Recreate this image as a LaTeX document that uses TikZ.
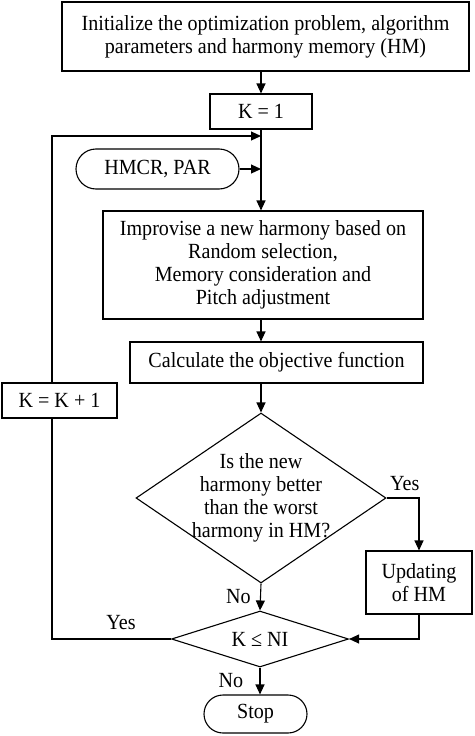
\documentclass[tikz,border=0pt]{standalone}
\usepackage{fontspec}
\setmainfont{Liberation Serif}[FakeStretch=0.93]
\usetikzlibrary{arrows.meta,shapes.geometric}

\begin{document}
\begin{tikzpicture}[
  x=1pt, y=1pt,
  block/.style={draw, line width=1.1pt, rectangle, align=center, inner sep=2pt},
  term/.style={draw, line width=1.1pt, rectangle, align=center, inner sep=2pt},
  decision/.style={draw, line width=1.1pt, diamond, aspect=1.5, inner sep=-6pt, align=center},
  font=\fontsize{21.6}{23}\selectfont,
  >={Triangle[length=10pt,width=9pt]}, line width=1.1pt
]
\useasboundingbox (0,0) rectangle (474,-736);

% Main column, top to bottom
\node[block, minimum width=407pt, minimum height=69pt] (init) at (265.5,-36.5) {Initialize the optimization problem, algorithm\\parameters and harmony memory (HM)};
\node[block, minimum width=102pt, minimum height=35pt] (k1) at (261,-111.5) {K = 1};
\node[block, minimum width=320pt, minimum height=108pt] (impr) at (263,-265) {Improvise a new harmony based on\\Random selection,\\Memory consideration and\\Pitch adjustment};
\node[block, minimum width=293pt, minimum height=41pt] (calc) at (276.5,-362.5) {Calculate the objective function};
\node[decision, minimum width=250pt, minimum height=170pt] (dec1) at (261,-498) {Is the new\\harmony better\\than the worst\\harmony in HM?};
\node[decision, minimum width=177pt, minimum height=56pt] (dec2) at (260,-639) {K ≤ NI};
\node[term, rounded corners=19pt, minimum width=103pt, minimum height=38pt] (stop) at (255.5,-714) {Stop};

% Side nodes
\node[term, rounded corners=20pt, minimum width=163pt, minimum height=40pt] (hmcr) at (157.5,-169) {HMCR, PAR};
\node[block, minimum width=115pt, minimum height=35pt] (kk1) at (59.5,-400.5) {K = K + 1};
\node[block, minimum width=106pt, minimum height=63pt] (upd) at (419,-582.5) {Updating\\of HM};

\coordinate (loop) at (261,-136);

% Connections
\draw[->] (init.south -| k1.north) -- (k1.north);
\draw[->] (k1.south) -- (k1.south |- impr.north);
\draw[->] (hmcr.east) -- (hmcr.east -| k1.south);
\draw[->] (impr.south -| k1.south) -- (calc.north -| k1.south);
\draw[->] (calc.south -| dec1.north) -- (dec1.north);
\draw[->] (dec1.east) -| node[pos=0.28, above, yshift=3pt]{Yes} (upd.north);
\draw[->] (dec1.south) -- node[left, xshift=-6pt]{No} (dec2.north);
\draw[->] (upd.south) |- (dec2.east);
\draw[->] (dec2.south) -- node[left, xshift=-13pt]{No} (dec2.south |- stop.north);

% Loop back
\draw (dec2.west) -| node[pos=0.21, above, yshift=5pt]{Yes} ([xshift=-7.5pt]kk1.south);
\draw[->] ([xshift=-7.5pt]kk1.north) |- (loop);

\end{tikzpicture}
\end{document}
